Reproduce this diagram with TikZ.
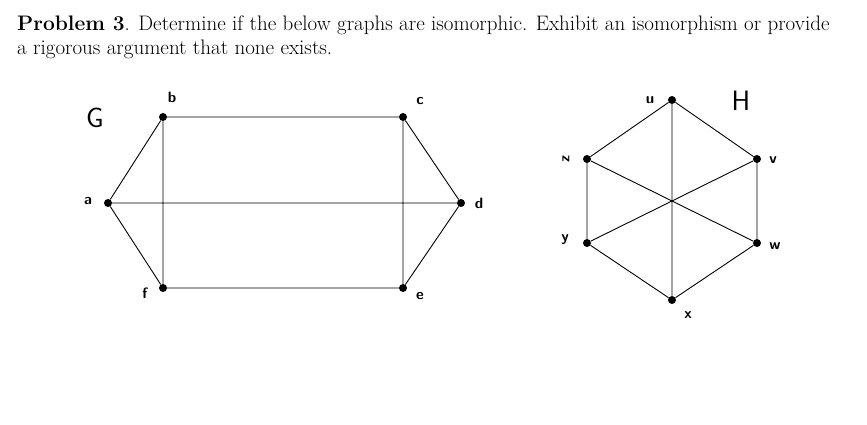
\documentclass[tikz,border=0pt]{standalone}
\begin{document}
\begin{tikzpicture}[x=1pt,y=-1pt,
  vtx/.style={circle,fill=black,inner sep=0pt,minimum size=8pt},
  lbl/.style={font=\sffamily\bfseries\fontsize{15}{17}\selectfont,inner sep=0pt},
  big/.style={font=\sffamily\fontsize{28}{30}\selectfont,inner sep=0pt},
  edge/.style={line width=0.9pt}]
\useasboundingbox (0,0) rectangle (867,425);
\node[anchor=base west,inner sep=0pt,font=\fontsize{21}{24}\selectfont] (t1) at (17,31) {\textbf{Problem 3}. Determine if the below graphs are isomorphic. Exhibit an isomorphism or provide};
\node[anchor=base west,inner sep=0pt,font=\fontsize{21}{24}\selectfont] (t2) at (17,55) {a rigorous argument that none exists.};
% G
\node[vtx] (b) at (163,117) {};
\node[vtx] (c) at (403,117) {};
\node[vtx] (a) at (108,203) {};
\node[vtx] (d) at (461,203) {};
\node[vtx] (f) at (163,288) {};
\node[vtx] (e) at (403,288) {};
\draw[edge] (a)--(b) (a)--(f) (a)--(d) (b)--(c) (b)--(f) (c)--(e) (c)--(d) (d)--(e) (f)--(e);
\node[big] (G) at (95,118) {G};
\node[lbl] (lb) at (172,97) {b};
\node[lbl] (lc) at (420,101) {c};
\node[lbl] (la) at (88,201) {a};
\node[lbl] (ld) at (479,203) {d};
\node[lbl] (lf) at (145,293) {f};
\node[lbl] (le) at (420,296) {e};
% H
\node[vtx] (u) at (672,100) {};
\node[vtx] (v) at (757,159) {};
\node[vtx] (w) at (757,243) {};
\node[vtx] (x) at (672,300) {};
\node[vtx] (y) at (587,243) {};
\node[vtx] (z) at (587,159) {};
\draw[edge] (u)--(v)--(w)--(x)--(y)--(z)--(u) (u)--(x) (z)--(w) (y)--(v);
\node[big] (H) at (741,101) {H};
\node[lbl] (lu) at (650,100) {u};
\node[lbl] (lv) at (773,160) {v};
\node[lbl] (lw) at (775,246) {w};
\node[lbl] (lx) at (688,315) {x};
\node[lbl] (ly) at (565,240) {y};
\node[lbl,rotate=90] (lz) at (566,159) {z};
\end{tikzpicture}
\end{document}
